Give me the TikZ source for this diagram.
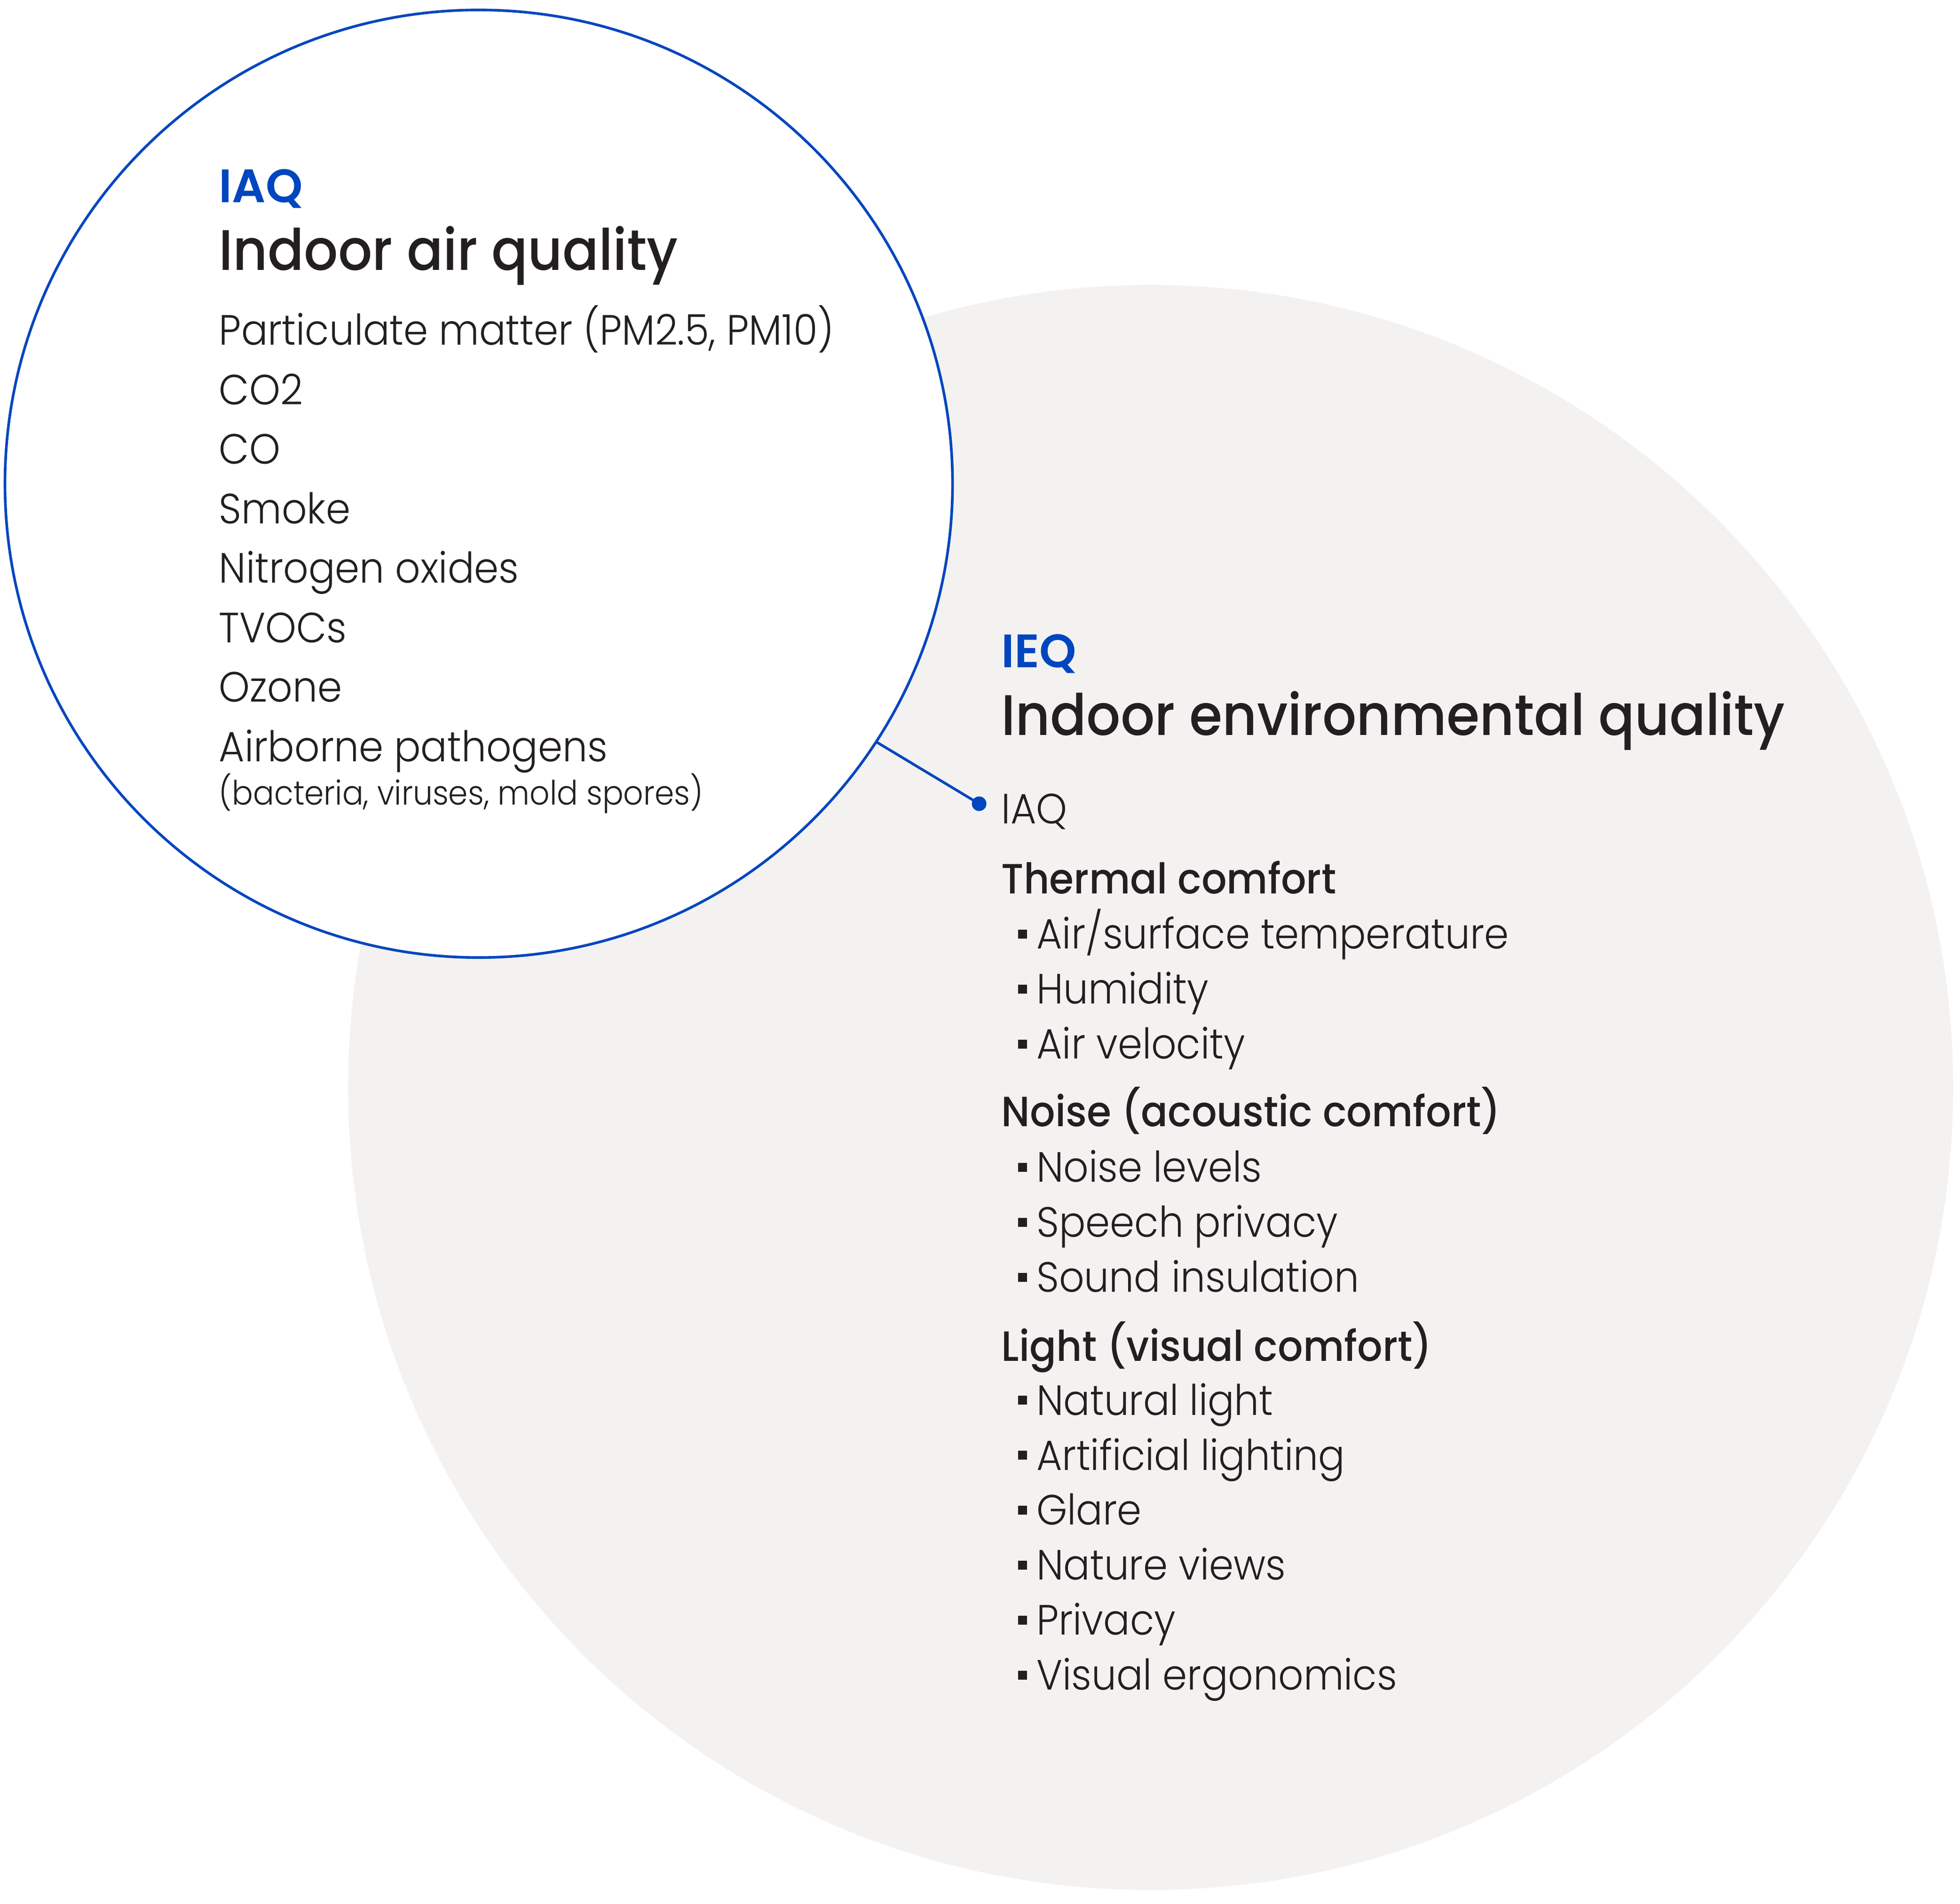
\documentclass[tikz,border=0pt]{standalone}
\usepackage{fontspec}
\setmainfont{Poppins Light}[FakeStretch=0.93]
\newfontfamily\headfont{Poppins Medium}[FakeStretch=0.935]
\newfontfamily\tagfont{Poppins SemiBold}
\definecolor{IaqBlue}{HTML}{0046BE}
\definecolor{IeqGray}{HTML}{F3F2F1}
\definecolor{InkBlack}{HTML}{231F20}
\tikzset{
    tag/.style={anchor=base west, inner sep=0pt, text=IaqBlue, font=\tagfont\fontsize{28.4}{30}\selectfont},
    title/.style={anchor=base west, inner sep=0pt, text=InkBlack, font=\headfont\fontsize{34.6}{36}\selectfont},
    group/.style={anchor=base west, inner sep=0pt, text=InkBlack, font=\headfont\fontsize{25.6}{28}\selectfont},
    item/.style={anchor=base west, inner sep=0pt, text=InkBlack, font=\fontsize{25.6}{28}\selectfont},
    note/.style={anchor=base west, inner sep=0pt, text=InkBlack, font=\fontsize{20.3}{22}\selectfont},
    bullet/.style={rectangle, fill=InkBlack, minimum size=0.19cm, inner sep=0pt},
    iaqring/.style={circle, draw=IaqBlue, line width=1.6pt, fill=white, minimum size=20.15cm, inner sep=0pt, outer sep=0pt},
    dot/.style={circle, fill=IaqBlue, minimum size=0.31cm, inner sep=0pt},
    link/.style={IaqBlue, line width=1.6pt}
}

\begin{document}
\begin{tikzpicture}[x=0.02658cm, y=-0.02658cm]
    % =========================================
    % 1. 背景圆 (IEQ)
    % =========================================
    \useasboundingbox (0,0) rectangle (1568,1523);
    \fill[IeqGray] (920.5,870) circle (642);

    % =========================================
    % 2. IAQ 圆与连线
    % =========================================
    \node[iaqring] (IAQc) at (383,387) {};
    \node[dot] (IAQd) at (783.3,643) {};
    \draw[link] (IAQc.-33.8) -- (IAQd.center);

    % IAQ 文字
    \node[tag] (IAQt) at (175,162) {IAQ};
    \node[title] (IAQh) at (175,216) {Indoor air quality};
    \foreach \txt [count=\i] in {{Particulate matter (PM2.5, PM10)}, CO2, CO, Smoke, {Nitrogen oxides}, TVOCs, Ozone, {Airborne pathogens}} {
        \pgfmathsetmacro{\yy}{276 + 47.6*(\i-1)}
        \node[item] (IAQ-\i) at (175,\yy) {\txt};
    }
    \node[note] (IAQn) at (175,644) {(bacteria, viruses, mold spores)};

    % =========================================
    % 3. IEQ 文字
    % =========================================
    \node[tag] (IEQt) at (801,534) {IEQ};
    \node[title] (IEQh) at (801,588) {Indoor environmental quality};
    \node[item] (IEQa) at (801,659) {IAQ};
    \node[group] (IEQth) at (801,715) {Thermal comfort};
    \node[group] (IEQno) at (801,901) {Noise (acoustic comfort)};
    \node[group] (IEQli) at (801,1089) {Light (visual comfort)};

    % 条目 (bullet items)
    \foreach \y/\txt [count=\i] in {759/{Air/surface temperature}, 803/Humidity, 847/{Air velocity},
        945.5/{Noise levels}, 989.5/{Speech privacy}, 1033.5/{Sound insulation},
        1132/{Natural light}, 1176/{Artificial lighting}, 1220/Glare, 1264/{Nature views}, 1308/Privacy, 1352/{Visual ergonomics}} {
        \node[bullet] (IEQb-\i) at (818,\y-11.7) {};
        \node[item] (IEQ-\i) at (829,\y) {\txt};
    }
\end{tikzpicture}
\end{document}
